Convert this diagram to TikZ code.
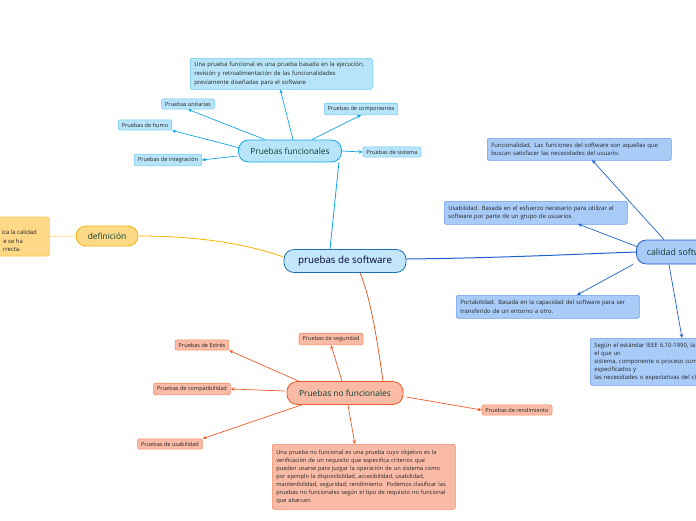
\documentclass[tikz,border=0pt]{standalone}
\usepackage{fontspec}
\setmainfont{Open Sans}
\usetikzlibrary{arrows.meta}
\definecolor{cyb}{HTML}{0EA5E9}\definecolor{cyf}{HTML}{B8E4FA}\definecolor{cyl}{HTML}{6CCAF2}
\definecolor{mnb}{HTML}{1A6FB0}\definecolor{mnf}{HTML}{C4E6FB}\definecolor{mnl}{HTML}{1A6FB0}
\definecolor{orb}{HTML}{F5B400}\definecolor{orf}{HTML}{FDD987}\definecolor{orl}{HTML}{F8C84A}
\definecolor{blb}{HTML}{1F5FCF}\definecolor{blf}{HTML}{A8CBF8}\definecolor{bll}{HTML}{6B9DEB}
\definecolor{rdb}{HTML}{F05A28}\definecolor{rdf}{HTML}{F9BBA5}\definecolor{rdl}{HTML}{F58A66}
\definecolor{dgreen}{HTML}{0B3D2E}
\tikzset{
 leaf/.style={draw=#1l,fill=#1f,rounded corners=2pt,line width=0.6pt,font=\fontsize{5.6}{6.5}\selectfont,inner xsep=3.5pt,inner ysep=3pt,text=black!85},
 info/.style={leaf=#1,align=left,inner sep=4pt,font=\fontsize{5.9}{8.6}\selectfont},
 topic/.style={draw=#1b,fill=#1f,rounded corners=10pt,line width=0.8pt,font=\fontsize{8.4}{10}\selectfont,text=dgreen,inner sep=0pt},
 arr/.style={draw=#1b,line width=0.7pt,-{Stealth[length=4pt,width=3.5pt]}},
 dline/.style={anchor=base east,inner sep=0pt,font=\fontsize{5.9}{8.6}\selectfont,text=black!85},
}
\begin{document}
\begin{tikzpicture}[x=1pt,y=-1pt]
\useasboundingbox (0,0) rectangle (696,520);
\clip (0,0) rectangle (696,520);
% main
\node[topic=mn,minimum width=122pt,minimum height=23pt,font=\fontsize{9.8}{11}\selectfont,text=black!80!blue] (main) at (345,261) {pruebas de software};
% funcionales
\node[topic=cy,minimum width=103pt,minimum height=22pt] (fun) at (290,151) {Pruebas funcionales};
\node[info=cy,text width=174pt,anchor=north west,minimum height=31pt] (finfo) at (190,58) {Una prueba funcional es una prueba basada en la ejecución,\\revisión y retroalimentación de las funcionalidades\\previamente diseñadas para el software};
\node[leaf=cy] (uni) at (188,104) {Pruebas unitarias};
\node[leaf=cy] (humo) at (145,125) {Pruebas de humo};
\node[leaf=cy] (integ) at (168,160) {Pruebas de integración};
\node[leaf=cy] (comp) at (361,109) {Pruebas de componentes};
\node[leaf=cy] (sist) at (392,152) {Pruebas de sistema};
\draw[cyb,line width=0.8pt] (main.north) ++(-15,0) -- ([xshift=-3pt]fun.south east);
\draw[arr=cy] (fun.north) ++(3,0) -- ([xshift=-1pt]finfo.south);
\draw[arr=cy] (fun.north) ++(-25,0) -- (uni.south);
\draw[arr=cy] (fun.west) ++(2,-3) -- (humo.south east);
\draw[arr=cy] (fun.west) ++(-1,5) -- (integ.east);
\draw[arr=cy] (fun.north) ++(22,0) -- (comp.south);
\draw[arr=cy] (fun.east) -- (sist.west);
% definicion
\node[topic=or,minimum width=62pt,minimum height=20pt] (def) at (107,236) {definición};
\node[leaf=or,anchor=west,minimum height=39pt,minimum width=60pt] (dinfo) at (-11,236.5) {};
\node[dline] (d1) at (37,234.5) {ica la calidad};
\node[dline] (d2) at (23,243) {e se ha};
\node[dline] (d3) at (21,251.5) {rrecta.};
\draw[orb,line width=0.8pt] (main.west) ++(0,-4) .. controls (230,238) and (170,236) .. (def.east);
\draw[orf,line width=0.8pt] (def.west) -- (dinfo.east);
% calidad
\node[topic=bl,minimum width=110pt,minimum height=24pt,anchor=west,font=\fontsize{8.8}{10}\selectfont] (cal) at (636,252) {\hspace*{-22pt}calidad software};
\node[info=bl,text width=176pt,anchor=north west,minimum height=22pt] (c1) at (487,138) {Funcionalidad. Las funciones del software son aquellas que\\buscan satisfacer las necesidades del usuario.};
\node[info=bl,text width=175pt,anchor=north west,minimum height=23pt] (c2) at (444,201) {Usabilidad. Basada en el esfuerzo necesario para utilizar el\\software por parte de un grupo de usuarios.};
\node[info=bl,text width=175pt,anchor=north west,minimum height=23pt] (c3) at (456,295) {Portabilidad. Basada en la capacidad del software para ser\\transferido de un entorno a otro.};
\node[info=bl,text width=150pt,anchor=north west,minimum height=47pt,font=\fontsize{5.9}{8}\selectfont] (c4) at (590,338) {Según el estándar IEEE 6.10-1990, la calidad\\el que un\\sistema, componente o proceso cumple los\\especificados y\\las necesidades o expectativas del cliente};
\draw[blb,line width=1pt] (main.east) ++(0,-2) .. controls (500,258) and (580,254) .. (cal.west);
\draw[arr=bl] (cal.north west) ++(28,0) -- (592,160);
\draw[arr=bl] (cal.west) ++(2,-5) -- (578,224);
\draw[arr=bl] (cal.south west) ++(-3,0) -- (577,295);
\draw[arr=bl] (cal.south west) ++(33,0) -- (682,338);
% no funcionales
\node[topic=rd,minimum width=116pt,minimum height=23pt] (nf) at (345,393) {Pruebas no funcionales};
\node[leaf=rd] (seg) at (331,339) {Pruebas de seguridad};
\node[leaf=rd] (estr) at (202,345) {Pruebas de Estrés};
\node[leaf=rd] (compa) at (192,389) {Pruebas de compatibilidad};
\node[leaf=rd] (usab) at (170,444) {Pruebas de usabilidad};
\node[leaf=rd] (rend) at (517,410) {Pruebas de rendimiento};
\node[info=rd,text width=175pt,anchor=north west,minimum height=65pt,font=\fontsize{5.7}{8.1}\selectfont] (ninfo) at (272,444) {Una prueba no funcional es una prueba cuyo objetivo es la\\verificación de un requisito que especifica criterios que\\pueden usarse para juzgar la operación de un sistema como\\por ejemplo la disponibilidad, accesibilidad, usabilidad,\\mantenibilidad, seguridad, rendimiento. Podemos clasificar las\\pruebas no funcionales según el tipo de requisito no funcional\\que abarcan:};
\draw[rdb,line width=0.8pt] (main.south) ++(15,0) .. controls (372,300) and (380,360) .. ([xshift=38pt]nf.north);
\draw[arr=rd] (nf.north) ++(-3,0) -- (seg.south);
\draw[arr=rd] (nf.north west) ++(12,0) -- (estr.south east);
\draw[arr=rd] (nf.west) ++(-2,-2) -- (compa.east);
\draw[arr=rd] (nf.south west) ++(15,0) -- (usab.north east);
\draw[arr=rd] (nf.east) ++(3,4) -- (rend.west);
\draw[arr=rd] (nf.south) ++(3,0) -- ([xshift=-9pt]ninfo.north);
\end{tikzpicture}
\end{document}
